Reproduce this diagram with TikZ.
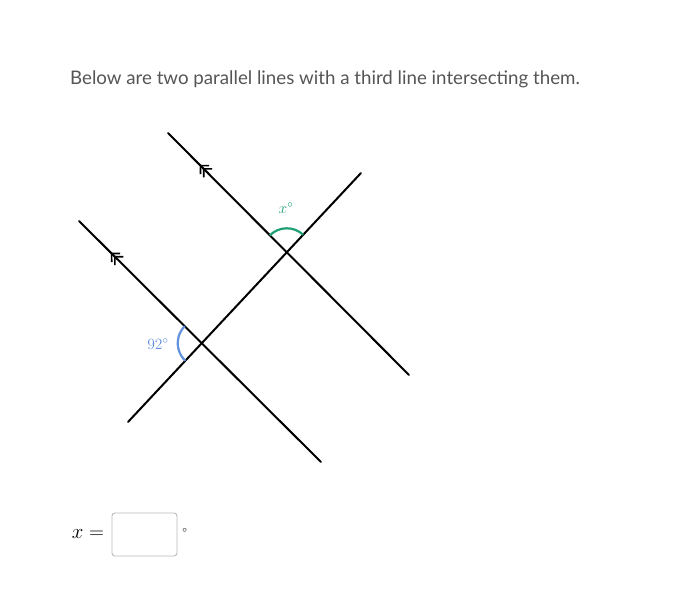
\documentclass[tikz,border=0pt]{standalone}
\usepackage{graphicx}
\usepackage{fontspec}
\setmainfont{Lato}
\usetikzlibrary{arrows.meta,decorations.markings,calc}

\definecolor{promptgray}{RGB}{85,85,85}
\definecolor{angleblue}{RGB}{98,145,222}
\definecolor{anglegreen}{RGB}{30,160,118}

\newcommand{\anglelabel}[1]{\scalebox{1.3}{\fontsize{12}{14}\selectfont$#1$}}

\begin{document}
\begin{tikzpicture}[
    x=1pt, y=1pt,
    geoline/.style={line width=2pt, line cap=round},
    parmark/.style={postaction={decorate}, decoration={markings,
        mark=at position #1 with {\arrowreversed{Straight Barb[length=6pt,width=12pt,line width=1.6pt]}},
        mark=at position #1+4.5pt with {\arrowreversed{Straight Barb[length=6pt,width=12pt,line width=1.6pt]}}}},
    anglearc/.style={line width=2.2pt}
]
\useasboundingbox (0,0) rectangle (685,589);

% prompt
\node[anchor=west, text=promptgray, font=\fontsize{18.7}{22}\selectfont, inner sep=0pt] (prompt) at (70,510)
    {Below are two parallel lines with a third line intersecting them.};

% the two parallel lines and the transversal
\coordinate (a1) at (168,456);
\coordinate (a2) at (409,214);
\coordinate (b1) at (79,368);
\coordinate (b2) at (321,127);
\coordinate (t1) at (128,167);
\coordinate (t2) at (361,416);

\draw[geoline, parmark=45pt] (a1) -- (a2);
\draw[geoline, parmark=45pt] (b1) -- (b2);
\draw[geoline] (t1) -- (t2);

\coordinate (P) at (intersection of b1--b2 and t1--t2);
\coordinate (Q) at (intersection of a1--a2 and t1--t2);

% angle marks
\draw[anglearc, angleblue] ($(P)+(135:24pt)$) arc[start angle=135, end angle=227, radius=24pt];
\node[text=angleblue] (lblP) at (158,245) {\anglelabel{92^\circ}};

\draw[anglearc, anglegreen] ($(Q)+(47:24pt)$) arc[start angle=47, end angle=135, radius=24pt];
\node[text=anglegreen] (lblQ) at (286,381) {\anglelabel{x^\circ}};

% answer field
\node[font=\fontsize{20}{24}\selectfont] (lhs) at (88,55) {$x =$};
\draw[gray!55, line width=0.9pt, rounded corners=3pt] (112,33) rectangle (177,76);
\node[font=\fontsize{13}{15}\selectfont] (deg) at (185,56) {$^\circ$};
\end{tikzpicture}
\end{document}
